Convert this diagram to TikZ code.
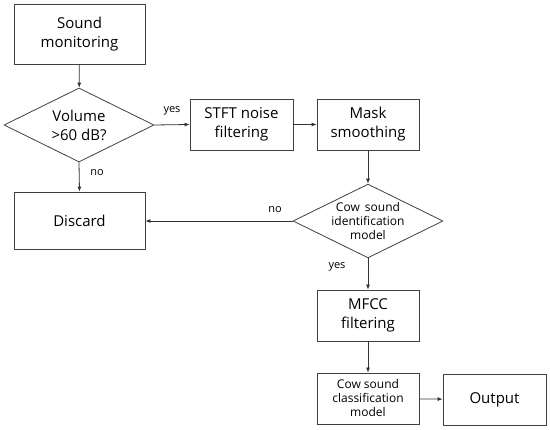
\documentclass[tikz,border=0pt]{standalone}
\usepackage{fontspec}
\setmainfont{Open Sans}
\usetikzlibrary{shapes.geometric,arrows.meta}

\begin{document}
\begin{tikzpicture}[x=1pt,y=-1pt]
		\tikzstyle{every node}=[font=\fontsize{15}{19}\selectfont, align=center, inner sep=1pt]
		\tikzstyle{box}=[rectangle, draw=black!75, line width=0.8pt, fill=white]
		\tikzstyle{choice}=[diamond, draw=black!75, line width=0.8pt, fill=white, aspect=2, inner sep=0pt]
		\tikzstyle{small}=[font=\fontsize{12}{14}\selectfont]
		\tikzstyle{tag}=[font=\fontsize{11}{13}\selectfont]
		\tikzstyle{flow}=[draw=black!80, line width=0.8pt, -{Latex[length=5pt,width=4pt]}]
		\useasboundingbox (0,0) rectangle (550,430);
		
		% Left column
		\node[box, minimum width=131pt, minimum height=60pt] (monitor) at (79.5,34) {Sound\\monitoring};
		\node[choice, minimum width=150pt, minimum height=74pt] (volume) at (79,125) {Volume\\>60 dB?};
		\node[box, minimum width=131pt, minimum height=57pt] (discard) at (79.5,220.5) {Discard};
		
		% Filtering
		\node[box, minimum width=103pt, minimum height=51pt] (stft) at (241.5,124.5) {STFT noise\\filtering};
		\node[box, minimum width=102pt, minimum height=51pt] (mask) at (368,124.5) {Mask\\smoothing};
		
		% Right column
		\node[choice, small, minimum width=150pt, minimum height=72pt] (identify) at (368,221) {Cow\, sound\\identification\\model};
		\node[box, minimum width=102pt, minimum height=51pt] (mfcc) at (368,315.5) {MFCC\\filtering};
		\node[box, small, minimum width=102pt, minimum height=51pt] (classify) at (368,398.5) {Cow sound\\classification\\model};
		\node[box, minimum width=103pt, minimum height=51pt] (output) at (494.5,399.5) {Output};
		
		% Arrows
		\draw[flow] (monitor) -- (volume);
		\draw[flow] (volume.east) -- (stft.west);
		\draw[flow] (volume.south) -- (discard.north);
		\draw[flow] (stft) -- (mask);
		\draw[flow] (mask) -- (identify.north);
		\draw[flow] (identify.west) -- (discard.east |- identify.west);
		\draw[flow] (identify.south) -- (mfcc.north);
		\draw[flow] (mfcc) -- (classify);
		\draw[flow] (classify) -- (output);
		
		% Labels
		\node[tag] (yes1) at (172,111) {yes};
		\node[tag] (no1) at (97,173) {no};
		\node[tag] (no2) at (275,210) {no};
		\node[tag] (yes2) at (337,267) {yes};
	\end{tikzpicture}
\end{document}
